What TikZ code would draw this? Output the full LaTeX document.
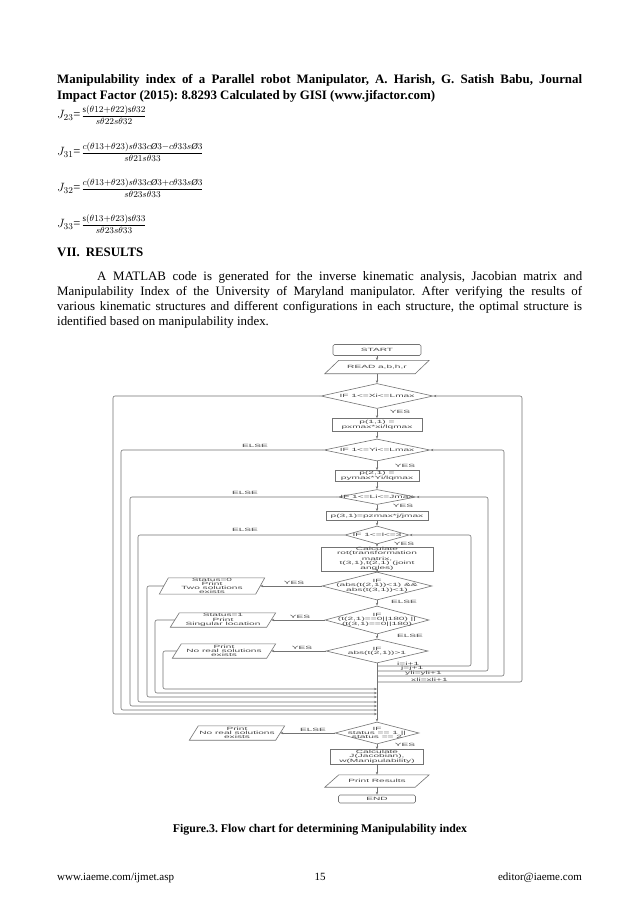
\documentclass[tikz,border=0pt]{standalone}
\usepackage{fontspec}
\usepackage{amsmath}
\setmainfont{Liberation Serif}
\newfontfamily\fcfont[FakeStretch=2.2]{Liberation Sans}
\usetikzlibrary{shapes.geometric,arrows.meta}
\frenchspacing
\newcommand\bodysize{\fontsize{12.9}{15}\selectfont}
% parallelogram outline drawn round a named rectangle node: #1 node, #2 half slant
\newcommand\slantbox[2]{\draw[fl] ([xshift=-#2]#1.south west) -- ([xshift=-#2]#1.south east) -- ([xshift=#2]#1.north east) -- ([xshift=#2]#1.north west) -- cycle;}
\tikzset{
  fl/.style={draw=black!55, line width=0.6pt},
  arr/.style={fl, -{Stealth[length=3pt,width=2.4pt]}},
  ft/.style={font=\fcfont\fontsize{4.6}{4.2}\selectfont, text=black!72, align=center, inner sep=0pt},
  lbl/.style={font=\fcfont\fontsize{4.6}{4.2}\selectfont, text=black!72, inner sep=0pt},
  boxs/.style={fl, rectangle, ft, inner sep=0.5pt},
  terms/.style={boxs, rounded corners=1.5pt},
  dias/.style={fl, diamond, inner sep=0pt},
  paras/.style={rectangle, ft, inner sep=0pt},
  eqn/.style={anchor=west, inner sep=0pt, font=\fontsize{12.5}{14}\selectfont},
  frac/.style={anchor=west, inner sep=0pt, font=\fontsize{9}{10}\selectfont},
}
\begin{document}
\begin{tikzpicture}[x=1pt,y=-1pt]
\path[fill=white, use as bounding box] (0,0) rectangle (638,903);

% ---------- page text ----------
\node[anchor=base west, text width=525pt, align=justify, inner sep=0pt, font=\bfseries\fontsize{12.9}{16}\selectfont] (hdr) at (57,83)
 {Manipulability index of a Parallel robot Manipulator, A. Harish, G. Satish Babu, Journal\linebreak Impact Factor (2015): 8.8293 Calculated by GISI (www.jifactor.com)};

\node[eqn] (j23) at (57,115) {$J_{23}$=};
\node[frac] (f23) at ([xshift=0.5pt]j23.east) {$\dfrac{\mathrm{s}(\theta12{+}\theta22)\mathrm{s}\theta32}{s\theta22s\theta32}$};
\node[eqn] (j31) at (57,152) {$J_{31}$=};
\node[frac] (f31) at ([xshift=0.5pt]j31.east) {$\dfrac{c(\theta13{+}\theta23)s\theta33c\textit{\O}3{-}c\theta33s\textit{\O}3}{s\theta21s\theta33}$};
\node[eqn] (j32) at (57,188) {$J_{32}$=};
\node[frac] (f32) at ([xshift=0.5pt]j32.east) {$\dfrac{c(\theta13{+}\theta23)s\theta33c\textit{\O}3{+}c\theta33s\textit{\O}3}{s\theta23s\theta33}$};
\node[eqn] (j33) at (57,224) {$J_{33}$=};
\node[frac] (f33) at ([xshift=0.5pt]j33.east) {$\dfrac{\mathrm{s}(\theta13{+}\theta23)\mathrm{s}\theta33}{s\theta23s\theta33}$};

\node[anchor=base west, inner sep=0pt, font=\bfseries\bodysize] (sec) at (57,256) {VII.\hspace{6pt}RESULTS};

\node[anchor=base west, text width=525pt, align=justify, inner sep=0pt, font=\bodysize] (para) at (57,280)
 {\hspace*{40pt}A MATLAB code is generated for the inverse kinematic analysis, Jacobian matrix and\linebreak
 Manipulability Index of the University of Maryland manipulator. After verifying the results of\linebreak
 various kinematic structures and different configurations in each structure, the optimal structure is\linebreak
 identified based on manipulability index.};

% ---------- flowchart ----------
\coordinate (lx1) at (113,0); \coordinate (lx2) at (121,0); \coordinate (lx3) at (130,0); \coordinate (lx4) at (138,0);
\coordinate (lx5) at (147,0); \coordinate (lx6) at (155,0); \coordinate (lx7) at (163,0);
\coordinate (rx1) at (522,0); \coordinate (rx2) at (504,0); \coordinate (rx3) at (488,0); \coordinate (rx4) at (471,0);

\node[terms, minimum width=88, minimum height=11] (start) at (377,350) {START};
\node[paras, minimum width=90, minimum height=13] (read) at (377,367) {READ a,b,h,r};
\slantbox{read}{7pt}
\node[dias, minimum width=112, minimum height=25, label={[ft]center:{IF 1<=Xi<=Lmax}}] (d1) at (377,396) {};
\node[boxs, minimum width=90, minimum height=13] (r1) at (377,425) {p(1,1) =\\pxmax*xi/lqmax};
\node[dias, minimum width=106, minimum height=22, label={[ft]center:{IF 1<=Yi<=Lmax}}] (d2) at (377,450) {};
\node[boxs, minimum width=84, minimum height=11] (r2) at (377,476) {p(2,1) =\\pymax*Yi/lqmax};
\node[dias, minimum width=78, minimum height=15, label={[ft]center:{IF 1<=Li<=Jmax}}] (d3) at (377,497) {};
\node[boxs, minimum width=102, minimum height=9] (r3) at (377,516) {p(3,1)=pzmax*j/jmax};
\node[dias, minimum width=64, minimum height=18, label={[ft]center:{IF 1<=l<=3}}] (d4) at (377,535) {};
\node[boxs, minimum width=112, minimum height=22] (c1) at (377,559) {Calculate\\rot(transformation\\matrix,\\t(3,1),t(2,1) (joint\\angles)};
\node[dias, minimum width=110, minimum height=28, label={[ft]center:{IF\\(abs(t(2,1))<1) \&\&\\abs(t(3,1))<1)}}] (d5) at (377,586) {};
\node[dias, minimum width=104, minimum height=28, label={[ft]center:{IF\\(t(2,1)==0||180) ||\\(t(3,1)==0||180)}}] (d6) at (377,620) {};
\node[dias, minimum width=102, minimum height=24, label={[ft]center:{IF\\abs(t(2,1))>1}}] (d7) at (377,651) {};

\node[paras, minimum width=96, minimum height=15] (p1) at (212,586) {Status=0\\Print\\Two solutions\\exists};
\slantbox{p1}{4.5pt}
\node[paras, minimum width=96, minimum height=14] (p2) at (223,620) {Status=1\\Print\\Singular location};
\slantbox{p2}{4.5pt}
\node[paras, minimum width=94, minimum height=14] (p3) at (224,651) {Print\\No real solutions\\exists};
\slantbox{p3}{4.5pt}

\node[dias, minimum width=84, minimum height=22, label={[ft]center:{IF\\status == 1 ||\\status == 2}}] (d8) at (377,733) {};
\node[paras, minimum width=86, minimum height=14] (p4) at (237,733) {Print\\No real solutions\\exists};
\slantbox{p4}{4.5pt}
\node[boxs, minimum width=93, minimum height=14] (c2) at (377,757) {Calculate\\J(Jacobian),\\w(Manipulability)};
\node[paras, minimum width=90, minimum height=12] (pr) at (377,781) {Print Results};
\slantbox{pr}{7pt}
\node[terms, minimum width=77, minimum height=8] (end) at (377,799) {END};

% main flow
\draw[arr] (start) -- (read);
\draw[arr] (read) -- (d1);
\draw[arr] (d1) -- (r1);
\draw[arr] (r1) -- (d2);
\draw[arr] (d2) -- (r2);
\draw[arr] (r2) -- (d3);
\draw[arr] (d3) -- (r3);
\draw[arr] (r3) -- (d4);
\draw[arr] (d4) -- (c1);
\draw[arr] (c1) -- (d5);
\draw[arr] (d5) -- (d6);
\draw[arr] (d6) -- (d7);
\draw[arr] (d7) -- (d8);
\draw[arr] (d8) -- (c2);
\draw[arr] (c2) -- (pr);
\draw[arr] (pr) -- (end);

\draw[arr] (d5.west) -- (p1.east);
\draw[arr] (d6.west) -- (p2.east);
\draw[arr] (d7.west) -- (p3.east);
\draw[arr] (d8.west) -- (p4.east);

% return points on main line
\coordinate (ret1) at (377,689); \coordinate (ret2) at (377,693); \coordinate (ret3) at (377,697);
\coordinate (ret4) at (377,702); \coordinate (ret5) at (377,706); \coordinate (ret6) at (377,710);
\coordinate (ret7) at (377,714);
\draw[arr, rounded corners=2pt] (p3.west) -| (lx7 |- ret1) -- (ret1);
\draw[arr, rounded corners=2pt] (p2.west) -| (lx6 |- ret2) -- (ret2);
\draw[arr, rounded corners=2pt] (p1.west) -| (lx5 |- ret3) -- (ret3);
\draw[arr, rounded corners=2pt] (d4.west) -| (lx4 |- ret4) -- (ret4);
\draw[arr, rounded corners=2pt] (d3.west) -| (lx3 |- ret5) -- (ret5);
\draw[arr, rounded corners=2pt] (d2.west) -| (lx2 |- ret6) -- (ret6);
\draw[arr, rounded corners=2pt] (d1.west) -| (lx1 |- ret7) -- (ret7);

% increments back to the decisions
\coordinate (i1) at (377,666); \coordinate (i2) at (377,671); \coordinate (i3) at (377,676); \coordinate (i4) at (377,682);
\draw[arr, rounded corners=2pt] (i1) -| (rx4 |- d4.east) -- (d4.east);
\draw[arr, rounded corners=2pt] (i2) -| (rx3 |- d3.east) -- (d3.east);
\draw[arr, rounded corners=2pt] (i3) -| (rx2 |- d2.east) -- (d2.east);
\draw[arr, rounded corners=2pt] (i4) -| (rx1 |- d1.east) -- (d1.east);

% labels
\node[lbl] (y1) at (400,412) {YES};
\node[lbl] (y2) at (405,466) {YES};
\node[lbl] (y3) at (403,506) {YES};
\node[lbl] (y4) at (404,543.5) {YES};
\node[lbl] (y5) at (294,583) {YES};
\node[lbl] (y6) at (300,617) {YES};
\node[lbl] (y7) at (302,648) {YES};
\node[lbl] (y8) at (405,745) {YES};
\node[lbl] (e2) at (255,446) {ELSE};
\node[lbl] (e3) at (245,493) {ELSE};
\node[lbl] (e4) at (245,530) {ELSE};
\node[lbl] (e5) at (404,602) {ELSE};
\node[lbl] (e6) at (410,636) {ELSE};
\node[lbl] (e8) at (313,730) {ELSE};
\node[lbl, anchor=south west] (li1) at (397,665.5) {i=i+1};
\node[lbl, anchor=south west] (li2) at (401,670.5) {j=j+1};
\node[lbl, anchor=south west] (li3) at (405,675.5) {yli=yli+1};
\node[lbl, anchor=south west] (li4) at (411,681.5) {xli=xli+1};

% caption and footer
\node[inner sep=0pt, font=\bfseries\fontsize{11.8}{13}\selectfont] (cap) at (320,830) {Figure.3. Flow chart for determining Manipulability index};
\node[anchor=base west, inner sep=0pt, font=\fontsize{11}{12}\selectfont] (fl) at (57,880) {www.iaeme.com/ijmet.asp};
\node[anchor=base, inner sep=0pt, font=\fontsize{11}{12}\selectfont] (fc) at (320,880) {15};
\node[anchor=base east, inner sep=0pt, font=\fontsize{11}{12}\selectfont] (fr) at (582,880) {editor@iaeme.com};
\end{tikzpicture}
\end{document}
